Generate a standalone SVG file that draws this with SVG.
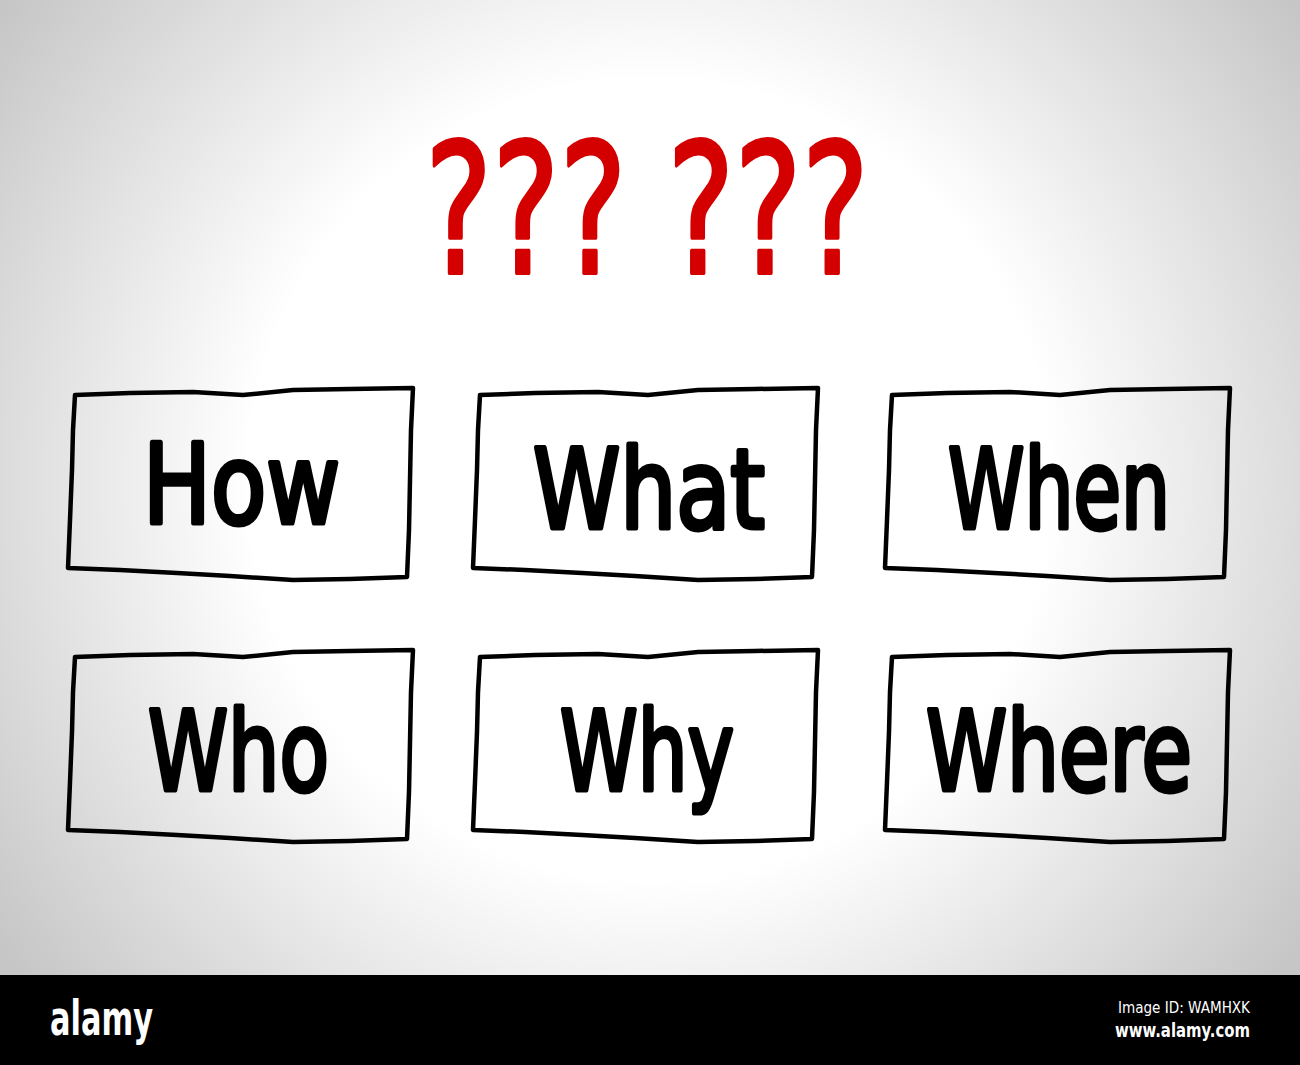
<svg xmlns="http://www.w3.org/2000/svg" xmlns:xlink="http://www.w3.org/1999/xlink" width="1300" height="1065" viewBox="0 0 1300 1065">
  <style>
    .box { fill: none; stroke: #000; stroke-width: 4.5; stroke-linejoin: round; stroke-linecap: round; }
    .word { font-family: "DejaVu Sans", "Liberation Sans", sans-serif; font-size: 110px; fill: #000; stroke: #000; stroke-width: 5; stroke-linejoin: round; }
    .qm { font-family: "DejaVu Sans", "Liberation Sans", sans-serif; font-size: 180px; fill: #d40000; stroke: #d40000; stroke-width: 4; stroke-linejoin: round; }
    .logo { font-family: "DejaVu Sans Condensed", "DejaVu Sans", sans-serif; font-weight: bold; font-size: 48px; fill: #fff; }
    .meta { font-family: "DejaVu Sans Condensed", "DejaVu Sans", sans-serif; fill: #fff; }
  </style>
  <defs>
    <radialGradient id="bg" gradientUnits="userSpaceOnUse" cx="650" cy="480" r="800">
      <stop offset="0" stop-color="#ffffff"/>
      <stop offset="0.5" stop-color="#ffffff"/>
      <stop offset="1" stop-color="#c6c6c6"/>
    </radialGradient>
    <path id="box" d="M75,395 L130,393 L193,392 L243,395 L293,390 L350,389 L413,388 L411,430 L410,480 L409,530 L407,577 L350,579 L293,580 L230,576 L177,573 L120,570 L68,568 L70,520 L72,470 L73,430 Z"/>
  </defs>

  <rect x="0" y="0" width="1300" height="975" fill="url(#bg)"/>

  <g id="questions">
    <text class="qm" x="425" y="273" textLength="444" lengthAdjust="spacingAndGlyphs">??? ???</text>
  </g>

  <g id="connectors"></g>

  <g id="node-how">
    <use xlink:href="#box" class="box"/>
    <text class="word" x="143" y="523" textLength="197" lengthAdjust="spacingAndGlyphs">How</text>
  </g>
  <g id="node-what">
    <use xlink:href="#box" class="box" transform="translate(405,0)"/>
    <text class="word" x="533" y="528" textLength="232" lengthAdjust="spacingAndGlyphs">What</text>
  </g>
  <g id="node-when">
    <use xlink:href="#box" class="box" transform="translate(817,0)"/>
    <text class="word" x="948" y="528" textLength="222" lengthAdjust="spacingAndGlyphs">When</text>
  </g>
  <g id="node-who">
    <use xlink:href="#box" class="box" transform="translate(0,262)"/>
    <text class="word" x="148" y="790" textLength="181" lengthAdjust="spacingAndGlyphs">Who</text>
  </g>
  <g id="node-why">
    <use xlink:href="#box" class="box" transform="translate(405,262)"/>
    <text class="word" x="560" y="790" textLength="174" lengthAdjust="spacingAndGlyphs">Why</text>
  </g>
  <g id="node-where">
    <use xlink:href="#box" class="box" transform="translate(817,262)"/>
    <text class="word" x="926" y="790" textLength="266" lengthAdjust="spacingAndGlyphs">Where</text>
  </g>

  <g id="footer">
    <rect x="0" y="975" width="1300" height="90" fill="#000"/>
    <text class="logo" x="50" y="1035" textLength="103" lengthAdjust="spacingAndGlyphs">alamy</text>
    <text class="meta" x="1118" y="1013" font-size="16" textLength="132" lengthAdjust="spacingAndGlyphs">Image ID: WAMHXK</text>
    <text class="meta" x="1115" y="1037" font-size="19" font-weight="bold" textLength="135" lengthAdjust="spacingAndGlyphs">www.alamy.com</text>
  </g>
</svg>
